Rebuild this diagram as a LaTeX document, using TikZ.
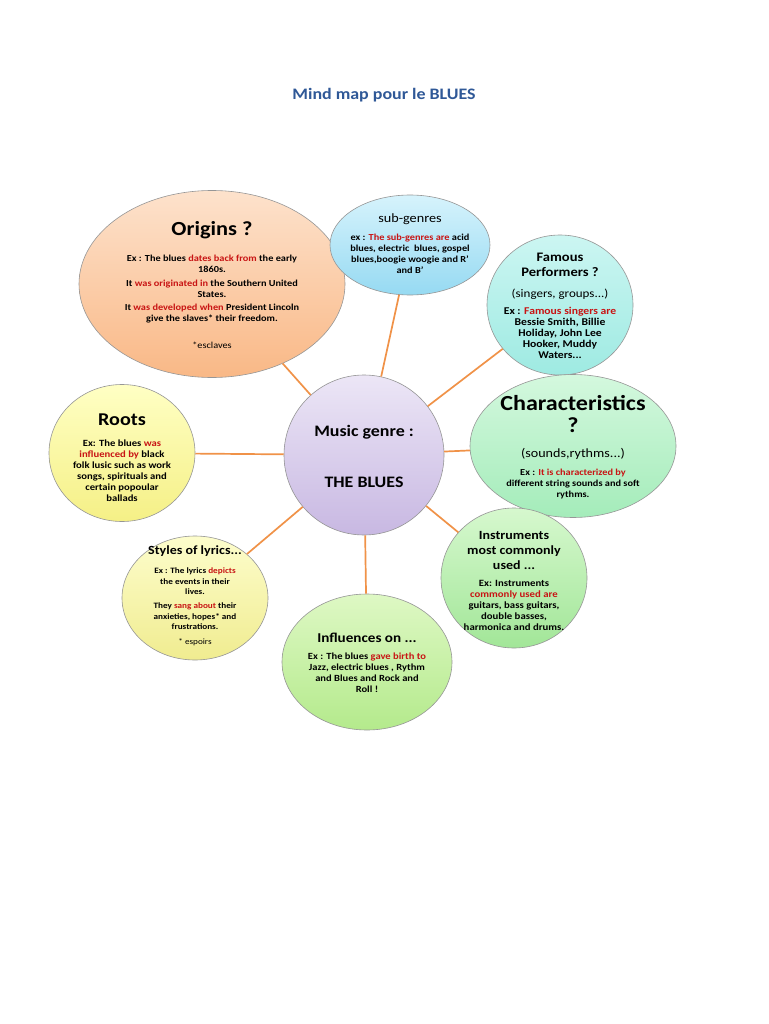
\documentclass[tikz,border=0pt]{standalone}
\usepackage{fontspec}
\setmainfont{Carlito}[FakeStretch=1.12]
\definecolor{linkorange}{RGB}{240,146,72}
\definecolor{edgegray}{RGB}{150,150,150}
\definecolor{hotred}{RGB}{200,20,20}
\definecolor{titleblue}{RGB}{47,88,151}
\usetikzlibrary{shapes.geometric}
\newcommand{\rd}[1]{\textcolor{hotred}{#1}}
\newcommand{\fsz}[2]{\fontsize{#1}{#2}\selectfont}
\tikzset{
	bubble/.style={ellipse, draw=edgegray, line width=0.6pt, inner sep=0pt},
	link/.style={draw=linkorange, line width=1.7pt},
	headtxt/.style={align=center, inner sep=0pt, font=\bfseries\fsz{13}{15}},
	bigtxt/.style={align=center, inner sep=0pt, font=\bfseries\fsz{20}{22}},
	bodytxt/.style={align=center, inner sep=0pt, font=\bfseries\fsz{9.2}{11}},
	notetxt/.style={align=center, inner sep=0pt, font=\fsz{11.6}{13}},
}
\begin{document}
\begin{tikzpicture}[x=1pt, y=-1pt]
	\useasboundingbox (0,0) rectangle (768,1024);
	\fill[white] (0,0) rectangle (768,1024);
	\node[inner sep=0pt, text=titleblue, font=\bfseries\fsz{16}{18}] (maptitle) at (384,95) {Mind map pour le BLUES};
	% bubbles
	\node[bubble, minimum width=160pt, minimum height=160pt, top color={rgb,255:red,236;green,230;blue,246}, bottom color={rgb,255:red,200;green,184;blue,226}] (genre) at (364,455) {};
	\node[bubble, minimum width=266pt, minimum height=187pt, top color={rgb,255:red,253;green,226;blue,204}, bottom color={rgb,255:red,249;green,184;blue,134}] (origins) at (212,284) {};
	\node[bubble, minimum width=160pt, minimum height=100pt, top color={rgb,255:red,214;green,243;blue,252}, bottom color={rgb,255:red,150;green,218;blue,242}] (subgenres) at (410,245) {};
	\node[bubble, minimum width=146pt, minimum height=140pt, top color={rgb,255:red,204;green,246;blue,242}, bottom color={rgb,255:red,158;green,234;blue,226}] (famous) at (560,305) {};
	\node[bubble, minimum width=206pt, minimum height=143pt, top color={rgb,255:red,212;green,248;blue,222}, bottom color={rgb,255:red,164;green,236;blue,186}] (charac) at (573,446) {};
	\node[bubble, minimum width=146pt, minimum height=137pt, top color={rgb,255:red,255;green,255;blue,196}, bottom color={rgb,255:red,245;green,240;blue,134}] (roots) at (122,453) {};
	\node[bubble, minimum width=146pt, minimum height=124pt, top color={rgb,255:red,253;green,253;blue,204}, bottom color={rgb,255:red,240;green,236;blue,144}] (lyrics) at (195,598) {};
	\node[bubble, minimum width=170pt, minimum height=136pt, top color={rgb,255:red,222;green,248;blue,196}, bottom color={rgb,255:red,180;green,234;blue,140}] (influences) at (367,662) {};
	\node[bubble, minimum width=146pt, minimum height=140pt, top color={rgb,255:red,214;green,248;blue,206}, bottom color={rgb,255:red,162;green,230;blue,152}] (instruments) at (514,578) {};
	% connectors
	\draw[link] (genre) -- (origins);
	\draw[link] (genre) -- (subgenres);
	\draw[link] (genre) -- (famous);
	\draw[link] (genre) -- (charac);
	\draw[link] (genre) -- (instruments);
	\draw[link] (genre) -- (influences);
	\draw[link] (genre) -- (lyrics);
	\draw[link] (genre) -- (roots);
	% texts
	\node[headtxt, font=\bfseries\fsz{16}{18}] (genre-head) at (364,432) {Music genre :};
	\node[headtxt, font=\bfseries\fsz{16}{18}] (genre-name) at (364,482) {THE BLUES};
	\node[bigtxt] (origins-head) at (212,230) {Origins ?};
	\node[bodytxt] (origins-body) at (212,302) {Ex : The blues \rd{dates back from} the early\\1860s.\\[2.5pt]
		It \rd{was originated in} the Southern United\\States.\\[2.5pt]
		It \rd{was developed when} President Lincoln\\give the slaves* their freedom.\\[16pt]
		\mdseries *esclaves};
	\node[headtxt, font=\fsz{12.7}{15}] (subgenres-head) at (410,219) {sub-genres};
	\node[bodytxt] (subgenres-body) at (410,253.5) {ex : \rd{The sub-genres are} acid\\blues, electric\ \ blues, gospel\\blues,boogie woogie and R'\\and B'};
	\node[headtxt] (famous-head) at (560,264.5) {Famous\\Performers ?};
	\node[notetxt] (famous-note) at (560,294) {(singers, groups...)};
	\node[bodytxt, font=\bfseries\fsz{10.4}{11}] (famous-body) at (560,333) {Ex : \rd{Famous singers are}\\Bessie Smith, Billie\\Holiday, John Lee\\Hooker, Muddy\\Waters...};
	\node[bigtxt, font=\bfseries\fsz{21.5}{22}] (charac-head) at (573,414) {Characteristics\\?};
	\node[notetxt, font=\fsz{12.6}{14}] (charac-note) at (573,454) {(sounds,rythms...)};
	\node[bodytxt] (charac-body) at (573,484) {Ex : \rd{It is characterized by}\\different string sounds and soft\\rythms.};
	\node[bigtxt, font=\bfseries\fsz{18}{20}] (roots-head) at (122,420) {Roots};
	\node[bodytxt, font=\bfseries\fsz{9.5}{11}] (roots-body) at (122,470.5) {Ex: The blues \rd{was}\\\rd{influenced by} black\\folk lusic such as work\\songs, spirituals and\\certain popoular\\ballads};
	\node[headtxt, font=\bfseries\fsz{12.5}{14}] (lyrics-head) at (195,551) {Styles of lyrics...};
	\node[bodytxt, font=\bfseries\fsz{8.2}{10.5}] (lyrics-body) at (195,607) {Ex : The lyrics \rd{depicts}\\the events in their\\lives.\\[3.5pt]
		They \rd{sang about} their\\anxieties, hopes* and\\frustrations.\\[4pt]
		\mdseries * espoirs};
	\node[headtxt, font=\bfseries\fsz{13.5}{15}] (influences-head) at (367,638) {Influences on ...};
	\node[bodytxt, font=\bfseries\fsz{9.4}{11}] (influences-body) at (367,672.5) {Ex : The blues \rd{gave birth to}\\Jazz, electric blues , Rythm\\and Blues and Rock and\\Roll !};
	\node[headtxt, font=\bfseries\fsz{12.5}{15}] (instruments-head) at (514,550) {Instruments\\most commonly\\used ...};
	\node[bodytxt, font=\bfseries\fsz{9.6}{11}] (instruments-body) at (514,605) {Ex: Instruments\\\rd{commonly used are}\\guitars, bass guitars,\\double basses,\\harmonica and drums.};
\end{tikzpicture}
\end{document}
